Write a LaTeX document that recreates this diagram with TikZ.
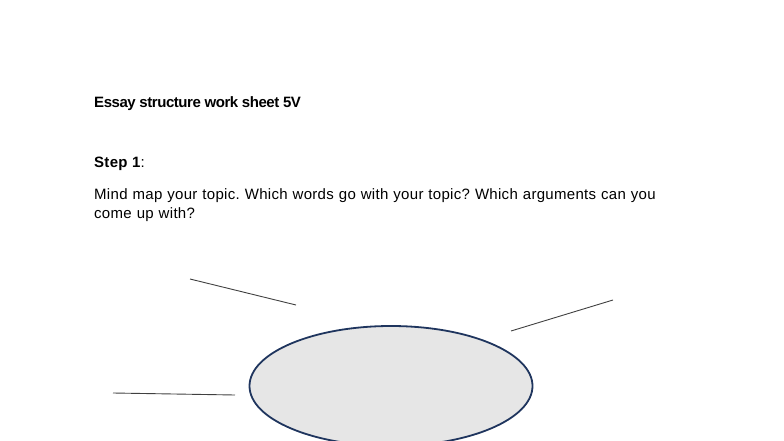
\documentclass[tikz,border=0pt]{standalone}
\usepackage{fontspec}
\setmainfont{Liberation Sans}
\usepackage{xcolor}
\usetikzlibrary{shapes.geometric, positioning, calc}
\definecolor{rimblue}{HTML}{1F355E}
\definecolor{bubblegrey}{HTML}{E6E6E6}
\tikzset{
  sheettext/.style = {anchor=base west, inner sep=0pt, font=\fontsize{15}{19}\selectfont\addfontfeature{LetterSpace=-3}\frenchspacing},
  bodytext/.style = {sheettext, font=\fontsize{15}{19}\selectfont\addfontfeature{LetterSpace=2}\frenchspacing},
  bubble/.style = {ellipse, minimum width=283pt, minimum height=120pt, draw=rimblue, line width=1.8pt, fill=bubblegrey},
  branch/.style = {draw=black!75, line width=0.9pt}
}

\begin{document}
\begin{tikzpicture}[x=1pt, y=-1pt]
\useasboundingbox (0,0) rectangle (784,441);
\node (title) [sheettext] at (94,107.5) {\textbf{Essay structure work sheet 5V}};
\node (step) [bodytext] at (94,167) {\textbf{Step 1}:};
\node (prompt) [bodytext, text width=640pt, align=left] at (94,199) {Mind map your topic. Which words go with your topic? Which arguments can you\\come up with?};

\node (topic) [bubble] at (391,386) {};

\coordinate (a1) at (190,279);
\coordinate (a2) at (296,305);
\coordinate (b1) at (511,331);
\coordinate (b2) at (613,300);
\coordinate (c1) at (113,393);
\coordinate (c2) at (235,395);

\draw [branch] (a1) -- (a2);
\draw [branch] (b1) -- (b2);
\draw [branch] (c1) -- (c2);
\end{tikzpicture}
\end{document}
